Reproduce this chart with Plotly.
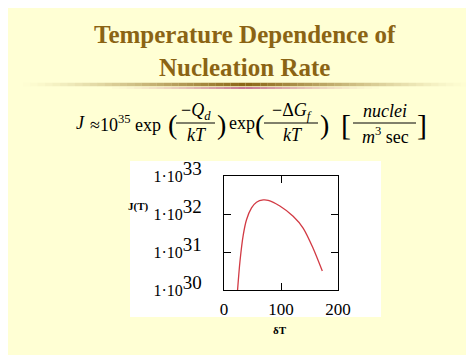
import plotly.graph_objects as go
import numpy as np

# ---- data ----
delta_T = [23.8, 28.0, 33.8, 39.5, 48.3, 57.0, 68.8, 77.5, 98.0, 121.3, 138.8, 156.3, 172.5]
log_J = [30.0, 30.75, 31.45, 31.85, 32.16, 32.31, 32.37, 32.36, 32.21, 31.94, 31.63, 31.10, 30.50]
J_vals = [10 ** v for v in log_J]
y_tick_vals = [1e30, 1e31, 1e32, 1e33]
y_tick_exps = ["30", "31", "32", "33"]
x_tick_vals = [0, 100, 200]

W, H = 474, 355
L, R, T, B = 216, 144, 168, 73
PW, PH = W - L - R, H - T - B

def px(x):
    return (x - L) / PW

def py(y):
    return (H - B - y) / PH

BG = "#FFFFD4"
BROWN = "#8B6414"
SERIF = "Liberation Serif"

fig = go.Figure()
fig.add_trace(go.Scatter(x=delta_T, y=J_vals, mode="lines",
                         line=dict(color="#D23A44", width=1.3, shape="spline", smoothing=0.8),
                         showlegend=False, hoverinfo="skip"))

shapes = []
# white panel behind chart
shapes.append(dict(type="rect", xref="paper", yref="paper", x0=px(122), x1=px(373),
                   y0=py(309), y1=py(153), fillcolor="white", line=dict(width=0),
                   layer="below"))
# gradient rule under the title
n = 60
x_start, x_end = 15, 460
for i in range(n):
    xa = x_start + (x_end - x_start) * i / n
    xb = x_start + (x_end - x_start) * (i + 1) / n
    d = abs((xa + xb) / 2 - 237) / 222
    op = max(0.0, 1 - d) ** 1.3
    shapes.append(dict(type="line", xref="paper", yref="paper", x0=px(xa), x1=px(xb),
                       y0=py(76.5), y1=py(76.5), line=dict(color=BROWN, width=3.5),
                       opacity=op))
    op2 = max(0.0, 1 - d * 1.6) ** 1.5
    if op2 > 0:
        shapes.append(dict(type="line", xref="paper", yref="paper", x0=px(xa), x1=px(xb),
                           y0=py(80), y1=py(80), line=dict(color="#A0186A", width=1.2),
                           opacity=op2))
# fraction bars of the equation
for x0, x1 in [(168, 207), (256, 310), (345, 408)]:
    shapes.append(dict(type="line", xref="paper", yref="paper", x0=px(x0), x1=px(x1),
                       y0=py(115), y1=py(115), line=dict(color="black", width=1)))

ann = []
def text(x, y, s, size=17, xanchor="center", color="black", family=SERIF):
    ann.append(dict(x=px(x), y=py(y), xref="paper", yref="paper", text=s, showarrow=False,
                    xanchor=xanchor, yanchor="middle",
                    font=dict(family=family, size=size, color=color)))

text(237, 43, "<b>Temperature Dependence of<br>Nucleation Rate</b>", size=25, color=BROWN)
# equation
text(66, 115, "<i>J</i>", size=18, xanchor="left")
text(80, 115, "≈10<sup>35</sup> exp", size=18, xanchor="left")
text(164, 116, "(", size=28, xanchor="center")
text(188, 103, "−<i>Q<sub>d</sub></i>", size=18)
text(189, 127, "<i>kT</i>", size=18)
text(213, 116, ")", size=28, xanchor="center")
text(219, 115, "exp", size=18, xanchor="left")
text(251, 116, "(", size=28, xanchor="center")
text(284, 103, "−Δ<i>G<sub>f</sub></i>", size=18)
text(285, 127, "<i>kT</i>", size=18)
text(316, 116, ")", size=28, xanchor="center")
text(338, 116, "[", size=30, xanchor="center")
text(377, 103, "<i>nuclei</i>", size=18)
text(377, 127, "<i>m</i><sup>3</sup> sec", size=18)
text(414, 116, "]", size=30, xanchor="center")
# axis titles
text(130, 198, "<b>J(T)</b>", size=11)
text(272, 322, "<b>δT</b>", size=11)

fig.update_layout(
    width=W, height=H, margin=dict(l=L, r=R, t=T, b=B, autoexpand=False),
    paper_bgcolor=BG, plot_bgcolor="white",
    shapes=shapes, annotations=ann, showlegend=False,
    font=dict(family=SERIF, color="black"),
)
fig.update_xaxes(range=[0, 200], tickvals=x_tick_vals, ticks="inside", ticklen=7,
                 tickwidth=1, tickcolor="black", showline=True, linecolor="black",
                 linewidth=1, mirror="ticks", showgrid=False, zeroline=False,
                 tickfont=dict(family=SERIF, size=17), ticklabelstandoff=4)
fig.update_yaxes(type="log", range=[30, 33], tickvals=y_tick_vals,
                 ticktext=[f"1·10<sup><span style='font-size:19px'>{e}</span></sup>" for e in y_tick_exps],
                 ticks="inside", ticklen=7, tickwidth=1, tickcolor="black",
                 showline=True, linecolor="black", linewidth=1, mirror="ticks",
                 showgrid=False, zeroline=False,
                 tickfont=dict(family=SERIF, size=16), ticklabelstandoff=18)

fig.write_html("out.html")
